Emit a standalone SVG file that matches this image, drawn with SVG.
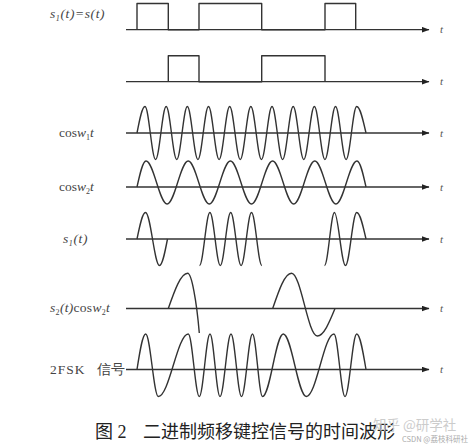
<svg xmlns="http://www.w3.org/2000/svg" width="474" height="446" viewBox="0 0 474 446">
<defs>
<marker id="arr" markerWidth="8" markerHeight="6" refX="7.5" refY="3" orient="auto" markerUnits="userSpaceOnUse"><path d="M0,0 L8,3 L0,6 Z" fill="#222"/></marker>
</defs>
<style>
.ax{stroke:#333;stroke-width:1.3;fill:none;marker-end:url(#arr)}
.w{stroke:#333;stroke-width:1.4;fill:none;stroke-linejoin:round}
.lb{font-family:"Liberation Serif","Times New Roman",serif;font-size:13.5px;fill:#444}
.i{font-style:italic}
.sb{font-size:8px}
.t{font-family:"Liberation Serif",serif;font-style:italic;font-size:11px;fill:#555}
.cap{font-family:"Liberation Serif","Noto Sans CJK SC",serif;font-size:18px;fill:#222}
.wm{font-family:"Noto Sans CJK SC","Liberation Sans",sans-serif;fill:#cccccc}
</style>
<rect width="474" height="446" fill="#fff"/>

<g id="row-s1-eq-s">
<line class="ax" x1="126" y1="29.7" x2="429" y2="29.7"/>
<polyline class="w" points="137,29.7 137,3.5 168.3,3.5 168.3,29.7 199,29.7 199,3.5 261.7,3.5 261.7,29.7 325,29.7 325,3.5 355.7,3.5 355.7,29.7"/>
<text class="lb i" x="50" y="18" letter-spacing="0.6">s<tspan class="sb" dy="3">1</tspan><tspan dy="-3">(t)=s(t)</tspan></text>
<text class="t" x="440" y="33.2">t</text>
</g>

<g id="row-s2">
<line class="ax" x1="126" y1="81.7" x2="429" y2="81.7"/>
<polyline class="w" points="168.3,81.7 168.3,55.7 199,55.7 199,81.7 261.7,81.7 261.7,55.7 325,55.7 325,81.7"/>
<text class="t" x="440" y="85.2">t</text>
</g>

<g id="row-cos1">
<line class="ax" x1="126" y1="133" x2="429" y2="133"/>
<path class="w" d="M137,133 c2.61,-13.59 5.1,-26.5 8,-26.5 c3.85,0 6.74,53 10.585,53 s6.74,-53 10.585,-53 s6.74,53 10.585,53 s6.74,-53 10.585,-53 s6.74,53 10.585,53 s6.74,-53 10.585,-53 s6.74,53 10.585,53 s6.74,-53 10.585,-53 s6.74,53 10.585,53 s6.74,-53 10.585,-53 s6.74,53 10.585,53 s6.74,-53 10.585,-53 s6.74,53 10.585,53 s6.74,-53 10.585,-53 s6.74,53 10.585,53 s6.74,-53 10.585,-53 s6.74,53 10.585,53 s6.74,-53 10.585,-53 s6.74,53 10.585,53 s6.74,-53 10.585,-53 c3.37,0 6.26,12.91 9.3,26.5"/>
<text class="lb" x="59" y="137">cos<tspan class="i">w</tspan><tspan class="sb" dy="3">1</tspan><tspan class="i" dy="-3">t</tspan></text>
<text class="t" x="440" y="136.5">t</text>
</g>

<g id="row-cos2">
<line class="ax" x1="126" y1="187" x2="429" y2="187"/>
<path class="w" d="M137,187 c2.94,-13.33 5.74,-26 9,-26 c7.67,0 13.43,43 21.1,43 s13.43,-43 21.1,-43 s13.43,43 21.1,43 s13.43,-43 21.1,-43 s13.43,43 21.1,43 s13.43,-43 21.1,-43 s13.43,43 21.1,43 s13.43,-43 21.1,-43 s13.43,43 21.1,43 s13.43,-43 21.1,-43 c3.26,0 6.06,12.67 9,26"/>
<text class="lb" x="59" y="191">cos<tspan class="i">w</tspan><tspan class="sb" dy="3">2</tspan><tspan class="i" dy="-3">t</tspan></text>
<text class="t" x="440" y="190.5">t</text>
</g>

<g id="row-s1t">
<line class="ax" x1="126" y1="239" x2="429" y2="239"/>
<path class="w" d="M137,239 c2.78,-13.59 5.42,-26.5 8.5,-26.5 c5.09,0 8.91,53 14,53 c2.9,0 5.39,-12.91 8,-26.5 M199.5,265.5 c3.78,0 6.62,-53 10.4,-53 s6.62,53 10.4,53 s6.62,-53 10.4,-53 s6.62,53 10.4,53 s6.62,-53 10.4,-53 s6.62,53 10.4,53 M324.5,265.5 c3.63,0 6.37,-53 10,-53 s7,53 11,53 s7.13,-53 11.2,-53 c3.37,0 6.26,12.91 9.3,26.5"/>
<text class="lb i" x="63" y="243" letter-spacing="0.6">s<tspan class="sb" dy="3">1</tspan><tspan dy="-3">(t)</tspan></text>
<text class="t" x="440" y="242.5">t</text>
</g>

<g id="row-s2cos2">
<line class="ax" x1="126" y1="308.5" x2="429" y2="308.5"/>
<path class="w" d="M168.3,308.5 C174.63,290.45 180.68,273.3 187.7,273.3 C191.5,273.3 196.5,300 199.3,333 M272.7,308.5 C278.84,290.45 284.7,273.3 291.5,273.3 C300.88,273.3 307.92,336 317.3,336 C323.71,336 329.22,322.6 335,308.5"/>
<text class="lb" x="50" y="312" letter-spacing="0.3"><tspan class="i">s</tspan><tspan class="sb" dy="3">2</tspan><tspan class="i" dy="-3">(t)</tspan>cos<tspan class="i">w</tspan><tspan class="sb" dy="3">2</tspan><tspan class="i" dy="-3">t</tspan></text>
<text class="t" x="440" y="312">t</text>
</g>

<g id="row-2fsk">
<line class="ax" x1="126" y1="369.5" x2="429" y2="369.5"/>
<path class="w" d="M137,369.5 C139.84,351.3 142.55,334 145.7,334 C150.28,334 153.72,396.5 158.3,396.5 C169.2,396.5 177.4,334 188.3,334 C192.3,334 195.3,396.5 199.3,396.5 C203.19,396.5 206.11,334 210,334 C213.63,334 216.37,396.5 220,396.5 C224,396.5 227,334 231,334 C234.82,334 237.68,396.5 241.5,396.5 C245.5,396.5 248.5,334 252.5,334 C256.13,334 258.87,396.5 262.5,396.5 C270.06,396.5 275.74,334 283.3,334 C291.66,334 297.94,396.5 306.3,396.5 C316.37,396.5 323.93,334 334,334 C338,334 341,396.5 345,396.5 C349.25,396.5 352.45,334 356.7,334 C360.07,334 362.96,351.3 366,369.5"/>
<text class="lb" x="50" y="374" letter-spacing="1">2FSK</text>
<text class="lb" x="97" y="374" font-family="'Noto Sans CJK SC',sans-serif" font-size="13">信号</text>
<text class="t" x="440" y="373">t</text>
</g>

<g id="caption">
<text class="cap" x="95" y="438">图 2</text>
<text class="cap" x="143" y="438">二进制频移键控信号的时间波形</text>
</g>

<g id="watermark">
<text class="wm" x="373" y="429.5" font-size="13.5">知乎 @研学社</text>
<text class="wm" x="402" y="442" font-size="7.5" style="fill:#aaaaaa">CSDN @荔枝科研社</text>
</g>
</svg>
